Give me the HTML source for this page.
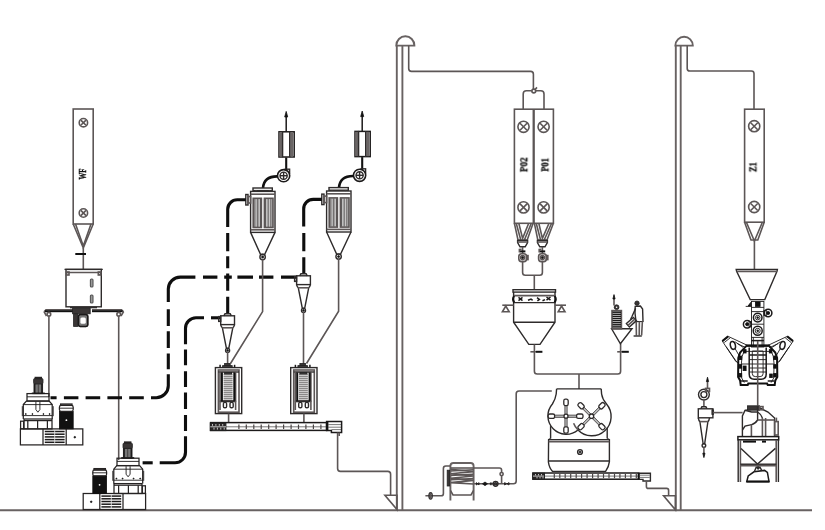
<!DOCTYPE html>
<html lang="en"><head><meta charset="utf-8"><title>Feed mill process flow diagram</title>
<style>
html,body{margin:0;padding:0;background:#fff}
svg{display:block}
.l{fill:none;stroke:#5c5656;stroke-width:1.6}
.m{fill:none;stroke:#2e2b2b;stroke-width:1.4}
.g{fill:none;stroke:#686262;stroke-width:1.9}
.wm{fill:#fff;stroke:#3d3939;stroke-width:1.1}
.k1{fill:none;stroke:#1c1a1a;stroke-width:0.9}
.k15{fill:none;stroke:#1c1a1a;stroke-width:1.5}
.k2{fill:none;stroke:#111;stroke-width:2}
.k25{fill:none;stroke:#111;stroke-width:2.6}
.wk{fill:#fff;stroke:#1c1a1a;stroke-width:1.6}
.hz{fill:#6a6565;stroke:none}
.arm{fill:#bbb;stroke:#3a3636;stroke-width:0.8}
.wm2{fill:#fff;stroke:#2e2b2b;stroke-width:1.3}
.tk{fill:none;stroke:#4a4545;stroke-width:1.2}
.mk{fill:none;stroke:#262323;stroke-width:1.25}
.k22{fill:none;stroke:#111;stroke-width:2.1}
.k3{fill:none;stroke:#0e0e0e;stroke-width:3.1}
.d{fill:none;stroke:#0c0c0c;stroke-width:3.3;stroke-dasharray:14.2 7.3}
.f{fill:#111;stroke:#111;stroke-width:0.8}
.f2{fill:#3a3636;stroke:#222;stroke-width:0.8}
.f4{fill:#777;stroke:#222;stroke-width:0.9}
.f3{fill:#2a2727;stroke:#222;stroke-width:1}
.w{fill:#fff;stroke:none}
.sl{fill:#999;stroke:#555;stroke-width:1.1}
.w1{fill:none;stroke:#eee;stroke-width:0.8}
.hs{fill:none;stroke:#474343;stroke-width:0.85}
.hs2{fill:none;stroke:#555;stroke-width:0.8}
.hs3{fill:none;stroke:#3a3636;stroke-width:0.85}
.t{font-family:"Liberation Serif",serif;font-weight:bold;fill:#111;stroke:#111;stroke-width:0.35}
</style></head>
<body>
<svg width="825" height="530" viewBox="0 0 825 530" role="img" aria-label="Process flow diagram">
<rect x="0" y="0" width="825" height="530" fill="#fff"/>
<line class="g" x1="0.0" y1="510.2" x2="397.0" y2="510.2"/>
<line class="g" x1="397.0" y1="510.2" x2="812.0" y2="510.2"/>
<line class="g" x1="396.8" y1="45.4" x2="396.8" y2="510.2"/>
<line class="g" x1="402.4" y1="45.4" x2="402.4" y2="510.2"/>
<path class="g" d="M396.3,45.6 A9.05,9.3 0 0 1 414.4,45.6 Z" />
<line class="g" x1="675.8" y1="45.4" x2="675.8" y2="510.2"/>
<line class="g" x1="680.7" y1="45.4" x2="680.7" y2="510.2"/>
<path class="g" d="M675.4,45.6 A8.7,8.8 0 0 1 692.8,45.6 Z" />
<rect class="l" x="73.2" y="109.0" width="20.0" height="115.0" />
<path class="l" d="M73.2,224 L83.3,248 L93.2,224" />
<path class="l" d="M75.5,224 L83.3,246 L91,224" />
<circle class="l" cx="83.4" cy="122.7" r="4.2"/>
<line class="l" x1="80.8" y1="120.1" x2="86.0" y2="125.3"/>
<line class="l" x1="80.8" y1="125.3" x2="86.0" y2="120.1"/>
<circle class="l" cx="83.4" cy="213.0" r="4.2"/>
<line class="l" x1="80.8" y1="210.4" x2="86.0" y2="215.6"/>
<line class="l" x1="80.8" y1="215.6" x2="86.0" y2="210.4"/>
<text class="t" style="will-change:opacity" transform="translate(86.0,174.0) rotate(-90)" font-size="10.5" text-anchor="middle" textLength="11" lengthAdjust="spacingAndGlyphs">WF</text>
<line class="l" x1="83.3" y1="248.0" x2="83.3" y2="269.2"/>
<line class="k2" x1="75.3" y1="254.0" x2="86.0" y2="254.0"/>
<rect class="m" x="66.0" y="269.4" width="35.3" height="37.4" />
<line class="m" x1="64.5" y1="269.4" x2="102.8" y2="269.4"/>
<line class="l" x1="66.0" y1="272.5" x2="101.3" y2="272.5"/>
<rect class="sl" x="90.4" y="279.0" width="2.6" height="8.0" rx="1"/>
<rect class="sl" x="90.4" y="295.0" width="2.6" height="8.0" rx="1"/>
<rect class="l" x="66.5" y="272.0" width="2.5" height="3.0" />
<rect class="l" x="98.3" y="272.0" width="2.5" height="3.0" />
<path class="l" d="M44,311.8 L46,309.8 L73,309.8 M92,309.8 L121.5,309.8 L123.6,311.8" />
<line class="k2" x1="45.0" y1="311.2" x2="73.4" y2="311.2"/>
<line class="k2" x1="92.0" y1="311.2" x2="122.5" y2="311.2"/>
<circle class="l" cx="48.9" cy="314.2" r="1.8"/>
<circle class="l" cx="118.7" cy="314.2" r="1.8"/>
<line class="l" x1="44.0" y1="311.6" x2="46.5" y2="316.0"/>
<line class="l" x1="123.6" y1="311.6" x2="121.0" y2="316.0"/>
<rect class="f2" x="72.6" y="308.4" width="17.6" height="5.4" />
<rect class="f2" x="73.6" y="313.8" width="4.0" height="12.6" />
<rect class="f4" x="78.4" y="314.6" width="9.4" height="12.0" rx="2"/>
<rect class="w" x="80.4" y="317.4" width="5.4" height="6.4" rx="1.5"/>
<rect class="k15" x="78.4" y="314.6" width="9.4" height="12.0" rx="2"/>
<line class="m" x1="70.0" y1="307.6" x2="97.0" y2="307.6"/>
<line class="l" x1="48.9" y1="316.0" x2="48.9" y2="397.0"/>
<line class="l" x1="118.7" y1="316.0" x2="118.7" y2="460.0"/>
<g transform="translate(20.4,445.2) scale(1,1)">
<rect class="mk" x="0.0" y="-16.3" width="62.4" height="16.0" />
<line class="mk" x1="22.6" y1="-16.3" x2="22.6" y2="-0.3"/>
<line class="mk" x1="45.8" y1="-16.3" x2="45.8" y2="-0.3"/>
<line class="k15" x1="24.4" y1="-13.7" x2="44.2" y2="-13.7"/>
<line class="k15" x1="24.4" y1="-11.0" x2="44.2" y2="-11.0"/>
<line class="k15" x1="24.4" y1="-8.3" x2="44.2" y2="-8.3"/>
<line class="k15" x1="24.4" y1="-5.6" x2="44.2" y2="-5.6"/>
<line class="k15" x1="24.4" y1="-2.9" x2="44.2" y2="-2.9"/>
<line class="w1" x1="34.3" y1="-15.0" x2="34.3" y2="-1.5"/>
<circle class="f" cx="54.4" cy="-8.0" r="0.8"/>
<rect class="mk" x="3.6" y="-26.2" width="28.0" height="9.9" />
<line class="mk" x1="7.4" y1="-24.6" x2="7.4" y2="-16.3"/>
<line class="mk" x1="17.2" y1="-24.6" x2="17.2" y2="-16.3"/>
<line class="mk" x1="27.0" y1="-24.6" x2="27.0" y2="-16.3"/>
<line class="mk" x1="3.6" y1="-24.6" x2="31.6" y2="-24.6"/>
<rect class="mk" x="0.2" y="-24.0" width="3.0" height="7.6" />
<path class="mk" d="M2.9,-26.2 L2.9,-40.6 L6,-44.2 L28.8,-44.2 L31.8,-40.6 L31.8,-26.2" />
<line class="k1" x1="3.0" y1="-40.6" x2="31.8" y2="-40.6"/>
<path class="k1" d="M15.5,-43.6 L15.5,-35.6 L17.5,-33 L19.5,-35.6 L19.5,-43.6" />
<line class="k1" x1="2.9" y1="-29.6" x2="31.8" y2="-29.6"/>
<circle class="f" cx="5.4" cy="-31.2" r="0.5"/>
<circle class="f" cx="12.0" cy="-31.2" r="0.5"/>
<circle class="f" cx="23.0" cy="-31.2" r="0.5"/>
<circle class="f" cx="29.2" cy="-31.2" r="0.5"/>
<line class="k1" x1="1.9" y1="-39.0" x2="1.9" y2="-29.0"/>
<line class="k1" x1="32.8" y1="-39.0" x2="32.8" y2="-29.0"/>
<rect class="mk" x="6.6" y="-51.6" width="22.0" height="7.4" />
<line class="k1" x1="6.6" y1="-48.4" x2="28.6" y2="-48.4"/>
<rect class="f4" x="13.6" y="-61.4" width="8.6" height="9.8" />
<rect class="f2" x="13.2" y="-66.6" width="9.4" height="5.2" rx="1"/>
<rect class="mk" x="14.8" y="-67.8" width="6.2" height="1.2" />
<line class="k15" x1="14.3" y1="-61.4" x2="14.3" y2="-51.6"/>
<line class="k15" x1="21.5" y1="-61.4" x2="21.5" y2="-51.6"/>
<line class="hs3" x1="17.9" y1="-61.0" x2="17.9" y2="-52.0"/>
<line class="k15" x1="11.4" y1="-51.9" x2="24.4" y2="-51.9"/>
<rect class="f" x="39.0" y="-33.8" width="13.8" height="17.5" />
<rect class="mk" x="39.0" y="-39.8" width="13.8" height="6.0" rx="1.8"/>
<rect class="mk" x="40.2" y="-41.2" width="11.4" height="1.4" />
<line class="k1" x1="39.0" y1="-37.0" x2="52.8" y2="-37.0"/>
<circle class="w" cx="46.0" cy="-25.0" r="0.9"/>
</g>
<g transform="translate(145.6,509.8) scale(-1,1)">
<rect class="mk" x="0.0" y="-16.3" width="62.4" height="16.0" />
<line class="mk" x1="22.6" y1="-16.3" x2="22.6" y2="-0.3"/>
<line class="mk" x1="45.8" y1="-16.3" x2="45.8" y2="-0.3"/>
<line class="k15" x1="24.4" y1="-13.7" x2="44.2" y2="-13.7"/>
<line class="k15" x1="24.4" y1="-11.0" x2="44.2" y2="-11.0"/>
<line class="k15" x1="24.4" y1="-8.3" x2="44.2" y2="-8.3"/>
<line class="k15" x1="24.4" y1="-5.6" x2="44.2" y2="-5.6"/>
<line class="k15" x1="24.4" y1="-2.9" x2="44.2" y2="-2.9"/>
<line class="w1" x1="34.3" y1="-15.0" x2="34.3" y2="-1.5"/>
<circle class="f" cx="54.4" cy="-8.0" r="0.8"/>
<rect class="mk" x="3.6" y="-26.2" width="28.0" height="9.9" />
<line class="mk" x1="7.4" y1="-24.6" x2="7.4" y2="-16.3"/>
<line class="mk" x1="17.2" y1="-24.6" x2="17.2" y2="-16.3"/>
<line class="mk" x1="27.0" y1="-24.6" x2="27.0" y2="-16.3"/>
<line class="mk" x1="3.6" y1="-24.6" x2="31.6" y2="-24.6"/>
<rect class="mk" x="0.2" y="-24.0" width="3.0" height="7.6" />
<path class="mk" d="M2.9,-26.2 L2.9,-40.6 L6,-44.2 L28.8,-44.2 L31.8,-40.6 L31.8,-26.2" />
<line class="k1" x1="3.0" y1="-40.6" x2="31.8" y2="-40.6"/>
<path class="k1" d="M15.5,-43.6 L15.5,-35.6 L17.5,-33 L19.5,-35.6 L19.5,-43.6" />
<line class="k1" x1="2.9" y1="-29.6" x2="31.8" y2="-29.6"/>
<circle class="f" cx="5.4" cy="-31.2" r="0.5"/>
<circle class="f" cx="12.0" cy="-31.2" r="0.5"/>
<circle class="f" cx="23.0" cy="-31.2" r="0.5"/>
<circle class="f" cx="29.2" cy="-31.2" r="0.5"/>
<line class="k1" x1="1.9" y1="-39.0" x2="1.9" y2="-29.0"/>
<line class="k1" x1="32.8" y1="-39.0" x2="32.8" y2="-29.0"/>
<rect class="mk" x="6.6" y="-51.6" width="22.0" height="7.4" />
<line class="k1" x1="6.6" y1="-48.4" x2="28.6" y2="-48.4"/>
<rect class="f4" x="13.6" y="-61.4" width="8.6" height="9.8" />
<rect class="f2" x="13.2" y="-66.6" width="9.4" height="5.2" rx="1"/>
<rect class="mk" x="14.8" y="-67.8" width="6.2" height="1.2" />
<line class="k15" x1="14.3" y1="-61.4" x2="14.3" y2="-51.6"/>
<line class="k15" x1="21.5" y1="-61.4" x2="21.5" y2="-51.6"/>
<line class="hs3" x1="17.9" y1="-61.0" x2="17.9" y2="-52.0"/>
<line class="k15" x1="11.4" y1="-51.9" x2="24.4" y2="-51.9"/>
<rect class="f" x="39.0" y="-33.8" width="13.8" height="17.5" />
<rect class="mk" x="39.0" y="-39.8" width="13.8" height="6.0" rx="1.8"/>
<rect class="mk" x="40.2" y="-41.2" width="11.4" height="1.4" />
<line class="k1" x1="39.0" y1="-37.0" x2="52.8" y2="-37.0"/>
<circle class="w" cx="46.0" cy="-25.0" r="0.9"/>
</g>
<path class="k3" d="M50.5,397.7 L56.6,397.7 M63.9,397.7 L78.4,397.7 M85.6,397.7 L100.2,397.7 M107.4,397.7 L122.0,397.7 M129.2,397.7 L143.8,397.7" />
<path class="k3" d="M151,397.7 L156.3,397.7 A12,12 0 0 0 168.3,385.7 L168.3,374.2" />
<path class="k3" d="M168.3,369.3 L168.3,353.4 M168.3,348.0 L168.3,331.3 M168.3,325.9 L168.3,309.2" />
<path class="k3" d="M168.3,301.9 L168.3,289.1 A12,12 0 0 1 180.3,277.1 L195.4,277.1" />
<path class="k3" d="M203.0,277.1 L217.4,277.1 M224.2,277.1 L231.8,277.1 M237.4,277.1 L253.0,277.1 M259.0,277.1 L273.4,277.1 M281.0,277.1 L296.6,277.1" />
<path class="k3" d="M142.6,462.8 L152.7,462.8" />
<path class="k3" d="M159.7,462.8 L175,462.8 A10.5,10.5 0 0 0 185.5,452.3 L185.5,436.3" />
<path class="k3" d="M185.5,431.0 L185.5,415.0 M185.5,409.0 L185.5,392.5 M185.5,387.0 L185.5,371.3 M185.5,365.3 L185.5,349.6" />
<path class="k3" d="M185.5,344.2 L185.5,328.3 A10.5,10.5 0 0 1 196,317.8 L204,317.8" />
<path class="k3" d="M211.0,317.8 L221.0,317.8" />
<g transform="translate(0,0)">
<line class="k15" x1="286.2" y1="115.0" x2="286.2" y2="131.4"/>
<path class="f" d="M286.2,111.4 L284.7,117 L287.7,117 Z" />
<rect class="k15" x="279.0" y="131.8" width="15.2" height="25.2" />
<rect class="hz" x="279.2" y="132.2" width="3.0" height="24.4" />
<rect class="hz" x="290.2" y="132.2" width="3.0" height="24.4" />
<line class="m" x1="282.6" y1="131.3" x2="282.6" y2="157.3"/>
<line class="m" x1="289.7" y1="131.3" x2="289.7" y2="157.3"/>
<line class="k22" x1="286.2" y1="157.5" x2="286.2" y2="170.5"/>
<rect class="m" x="285.0" y="169.2" width="4.6" height="4.0" />
<circle class="wk" cx="283.6" cy="175.7" r="6.1"/>
<circle class="m" cx="283.6" cy="175.7" r="3.6"/>
<line class="m" x1="280.0" y1="175.7" x2="287.2" y2="175.7"/>
<line class="m" x1="283.6" y1="172.1" x2="283.6" y2="179.3"/>
<path class="k25" d="M277.5,176.4 Q264,176.2 263,188" />
<rect class="m" x="253.0" y="188.0" width="19.3" height="2.6" />
<line class="l" x1="256.0" y1="190.6" x2="256.0" y2="191.5"/>
<line class="l" x1="269.5" y1="190.6" x2="269.5" y2="191.5"/>
<rect class="m" x="250.6" y="191.4" width="24.4" height="41.0" />
<line class="l" x1="250.6" y1="194.2" x2="275.0" y2="194.2"/>
<rect class="l" x="253.2" y="198.3" width="8.2" height="29.2" />
<rect class="l" x="264.4" y="198.3" width="8.6" height="29.2" />
<line class="hs" x1="254.3" y1="198.8" x2="254.3" y2="227.0"/>
<line class="hs" x1="265.5" y1="198.8" x2="265.5" y2="227.0"/>
<line class="hs" x1="255.9" y1="198.8" x2="255.9" y2="227.0"/>
<line class="hs" x1="267.1" y1="198.8" x2="267.1" y2="227.0"/>
<line class="hs" x1="257.4" y1="198.8" x2="257.4" y2="227.0"/>
<line class="hs" x1="268.7" y1="198.8" x2="268.7" y2="227.0"/>
<line class="hs" x1="258.9" y1="198.8" x2="258.9" y2="227.0"/>
<line class="hs" x1="270.3" y1="198.8" x2="270.3" y2="227.0"/>
<line class="hs" x1="260.5" y1="198.8" x2="260.5" y2="227.0"/>
<line class="hs" x1="271.9" y1="198.8" x2="271.9" y2="227.0"/>
<line class="l" x1="250.6" y1="229.8" x2="275.0" y2="229.8"/>
<path class="m" d="M250.6,232.4 L260.6,254.5 L264.6,254.5 L275,232.4" />
<circle class="m" cx="262.6" cy="257.0" r="2.7"/>
<circle class="f" cx="262.6" cy="257.0" r="1.0"/>
<rect class="m" x="245.8" y="194.5" width="2.2" height="10.5" />
<rect class="l" x="248.0" y="196.5" width="2.6" height="6.5" />
<path class="k3" d="M245.8,199.8 L237.2,199.8 A9.5,9.5 0 0 0 227.7,209.3 L227.7,227" />
</g>
<g transform="translate(76,-0.4)">
<line class="k15" x1="286.2" y1="115.0" x2="286.2" y2="131.4"/>
<path class="f" d="M286.2,111.4 L284.7,117 L287.7,117 Z" />
<rect class="k15" x="279.0" y="131.8" width="15.2" height="25.2" />
<rect class="hz" x="279.2" y="132.2" width="3.0" height="24.4" />
<rect class="hz" x="290.2" y="132.2" width="3.0" height="24.4" />
<line class="m" x1="282.6" y1="131.3" x2="282.6" y2="157.3"/>
<line class="m" x1="289.7" y1="131.3" x2="289.7" y2="157.3"/>
<line class="k22" x1="286.2" y1="157.5" x2="286.2" y2="170.5"/>
<rect class="m" x="285.0" y="169.2" width="4.6" height="4.0" />
<circle class="wk" cx="283.6" cy="175.7" r="6.1"/>
<circle class="m" cx="283.6" cy="175.7" r="3.6"/>
<line class="m" x1="280.0" y1="175.7" x2="287.2" y2="175.7"/>
<line class="m" x1="283.6" y1="172.1" x2="283.6" y2="179.3"/>
<path class="k25" d="M277.5,176.4 Q264,176.2 263,188" />
<rect class="m" x="253.0" y="188.0" width="19.3" height="2.6" />
<line class="l" x1="256.0" y1="190.6" x2="256.0" y2="191.5"/>
<line class="l" x1="269.5" y1="190.6" x2="269.5" y2="191.5"/>
<rect class="m" x="250.6" y="191.4" width="24.4" height="41.0" />
<line class="l" x1="250.6" y1="194.2" x2="275.0" y2="194.2"/>
<rect class="l" x="253.2" y="198.3" width="8.2" height="29.2" />
<rect class="l" x="264.4" y="198.3" width="8.6" height="29.2" />
<line class="hs" x1="254.3" y1="198.8" x2="254.3" y2="227.0"/>
<line class="hs" x1="265.5" y1="198.8" x2="265.5" y2="227.0"/>
<line class="hs" x1="255.9" y1="198.8" x2="255.9" y2="227.0"/>
<line class="hs" x1="267.1" y1="198.8" x2="267.1" y2="227.0"/>
<line class="hs" x1="257.4" y1="198.8" x2="257.4" y2="227.0"/>
<line class="hs" x1="268.7" y1="198.8" x2="268.7" y2="227.0"/>
<line class="hs" x1="258.9" y1="198.8" x2="258.9" y2="227.0"/>
<line class="hs" x1="270.3" y1="198.8" x2="270.3" y2="227.0"/>
<line class="hs" x1="260.5" y1="198.8" x2="260.5" y2="227.0"/>
<line class="hs" x1="271.9" y1="198.8" x2="271.9" y2="227.0"/>
<line class="l" x1="250.6" y1="229.8" x2="275.0" y2="229.8"/>
<path class="m" d="M250.6,232.4 L260.6,254.5 L264.6,254.5 L275,232.4" />
<circle class="m" cx="262.6" cy="257.0" r="2.7"/>
<circle class="f" cx="262.6" cy="257.0" r="1.0"/>
<rect class="m" x="245.8" y="194.5" width="2.2" height="10.5" />
<rect class="l" x="248.0" y="196.5" width="2.6" height="6.5" />
<path class="k3" d="M245.8,199.8 L237.2,199.8 A9.5,9.5 0 0 0 227.7,209.3 L227.7,227" />
</g>
<path class="k3" d="M227.7,232.9 L227.7,251.3 M227.7,256.2 L227.7,268.2 M227.7,273.5 L227.7,290.8 M227.7,296.8 L227.7,313.6" />
<path class="k3" d="M303.8,232.9 L303.8,251.3 M303.8,257.2 L303.8,273.6" />
<path class="m" d="M223.8,315.8 L225.0,313.8 L230.2,313.8 L231.4,315.8" />
<rect class="m" x="220.7" y="315.8" width="13.8" height="8.8" />
<rect class="m" x="218.7" y="316.6" width="2.0" height="4.8" />
<path class="m" d="M220.7,324.6 Q221.2,326.8 222.4,327.8 L226.4,348.2 L228.8,348.2 L232.8,327.8 Q234.0,326.8 234.5,324.6" />
<line class="l" x1="222.4" y1="327.8" x2="232.8" y2="327.8"/>
<circle class="m" cx="227.6" cy="350.4" r="2.0"/>
<circle class="f" cx="227.6" cy="350.4" r="0.8"/>
<path class="m" d="M299.7,275.8 L300.9,273.8 L306.1,273.8 L307.3,275.8" />
<rect class="m" x="296.6" y="275.8" width="13.8" height="8.8" />
<rect class="m" x="294.6" y="276.6" width="2.0" height="4.8" />
<path class="m" d="M296.6,284.6 Q297.1,286.8 298.3,287.8 L302.3,308.2 L304.7,308.2 L308.7,287.8 Q309.9,286.8 310.4,284.6" />
<line class="l" x1="298.3" y1="287.8" x2="308.7" y2="287.8"/>
<circle class="m" cx="303.5" cy="310.4" r="2.0"/>
<circle class="f" cx="303.5" cy="310.4" r="0.8"/>
<line class="l" x1="227.6" y1="352.0" x2="227.6" y2="364.0"/>
<line class="l" x1="303.5" y1="312.0" x2="303.5" y2="364.0"/>
<path class="l" d="M262.6,259.2 L262.6,311.6 L230.5,363.5" />
<path class="l" d="M338.6,258.8 L338.6,311.2 L306.5,363.5" />
<g transform="translate(0,0)">
<rect class="m" x="215.4" y="367.6" width="26.3" height="46.0" />
<rect class="l" x="218.4" y="370.0" width="20.6" height="42.2" />
<rect class="f2" x="224.6" y="363.4" width="5.6" height="2.2" />
<rect class="f2" x="222.6" y="365.6" width="9.6" height="2.0" />
<line class="k15" x1="220.1" y1="364.8" x2="220.1" y2="367.6"/>
<line class="k15" x1="234.6" y1="364.8" x2="234.6" y2="367.6"/>
<line class="m" x1="218.4" y1="372.0" x2="239.0" y2="372.0"/>
<rect class="l" x="220.0" y="372.2" width="15.6" height="28.6" />
<line class="k2" x1="221.9" y1="372.4" x2="221.9" y2="402.0"/>
<line class="k2" x1="234.3" y1="372.4" x2="234.3" y2="402.0"/>
<line class="hs3" x1="223.6" y1="374.2" x2="232.6" y2="374.2"/>
<line class="hs3" x1="223.6" y1="376.2" x2="232.6" y2="376.2"/>
<line class="hs3" x1="223.6" y1="378.2" x2="232.6" y2="378.2"/>
<line class="hs3" x1="223.6" y1="380.2" x2="232.6" y2="380.2"/>
<line class="hs3" x1="223.6" y1="382.2" x2="232.6" y2="382.2"/>
<line class="hs3" x1="223.6" y1="384.2" x2="232.6" y2="384.2"/>
<line class="hs3" x1="223.6" y1="386.2" x2="232.6" y2="386.2"/>
<line class="hs3" x1="223.6" y1="388.2" x2="232.6" y2="388.2"/>
<line class="hs3" x1="223.6" y1="390.2" x2="232.6" y2="390.2"/>
<line class="hs3" x1="223.6" y1="392.2" x2="232.6" y2="392.2"/>
<line class="hs3" x1="223.6" y1="394.2" x2="232.6" y2="394.2"/>
<line class="hs3" x1="223.6" y1="396.2" x2="232.6" y2="396.2"/>
<line class="hs3" x1="223.6" y1="398.2" x2="232.6" y2="398.2"/>
<line class="hs3" x1="223.6" y1="400.2" x2="232.6" y2="400.2"/>
<rect class="f2" x="224.6" y="372.4" width="7.0" height="1.5" />
<rect class="m" x="223.4" y="402.4" width="3.2" height="5.4" rx="1.4"/>
<rect class="m" x="230.0" y="402.4" width="3.2" height="5.4" rx="1.4"/>
<line class="m" x1="220.0" y1="401.6" x2="235.6" y2="401.6"/>
<line class="l" x1="220.0" y1="400.8" x2="220.0" y2="410.0"/>
<line class="l" x1="235.6" y1="400.8" x2="235.6" y2="410.0"/>
<line class="l" x1="228.6" y1="413.6" x2="228.6" y2="422.6"/>
</g>
<g transform="translate(75.3,0)">
<rect class="m" x="215.4" y="367.6" width="26.3" height="46.0" />
<rect class="l" x="218.4" y="370.0" width="20.6" height="42.2" />
<rect class="f2" x="224.6" y="363.4" width="5.6" height="2.2" />
<rect class="f2" x="222.6" y="365.6" width="9.6" height="2.0" />
<line class="k15" x1="220.1" y1="364.8" x2="220.1" y2="367.6"/>
<line class="k15" x1="234.6" y1="364.8" x2="234.6" y2="367.6"/>
<line class="m" x1="218.4" y1="372.0" x2="239.0" y2="372.0"/>
<rect class="l" x="220.0" y="372.2" width="15.6" height="28.6" />
<line class="k2" x1="221.9" y1="372.4" x2="221.9" y2="402.0"/>
<line class="k2" x1="234.3" y1="372.4" x2="234.3" y2="402.0"/>
<line class="hs3" x1="223.6" y1="374.2" x2="232.6" y2="374.2"/>
<line class="hs3" x1="223.6" y1="376.2" x2="232.6" y2="376.2"/>
<line class="hs3" x1="223.6" y1="378.2" x2="232.6" y2="378.2"/>
<line class="hs3" x1="223.6" y1="380.2" x2="232.6" y2="380.2"/>
<line class="hs3" x1="223.6" y1="382.2" x2="232.6" y2="382.2"/>
<line class="hs3" x1="223.6" y1="384.2" x2="232.6" y2="384.2"/>
<line class="hs3" x1="223.6" y1="386.2" x2="232.6" y2="386.2"/>
<line class="hs3" x1="223.6" y1="388.2" x2="232.6" y2="388.2"/>
<line class="hs3" x1="223.6" y1="390.2" x2="232.6" y2="390.2"/>
<line class="hs3" x1="223.6" y1="392.2" x2="232.6" y2="392.2"/>
<line class="hs3" x1="223.6" y1="394.2" x2="232.6" y2="394.2"/>
<line class="hs3" x1="223.6" y1="396.2" x2="232.6" y2="396.2"/>
<line class="hs3" x1="223.6" y1="398.2" x2="232.6" y2="398.2"/>
<line class="hs3" x1="223.6" y1="400.2" x2="232.6" y2="400.2"/>
<rect class="f2" x="224.6" y="372.4" width="7.0" height="1.5" />
<rect class="m" x="223.4" y="402.4" width="3.2" height="5.4" rx="1.4"/>
<rect class="m" x="230.0" y="402.4" width="3.2" height="5.4" rx="1.4"/>
<line class="m" x1="220.0" y1="401.6" x2="235.6" y2="401.6"/>
<line class="l" x1="220.0" y1="400.8" x2="220.0" y2="410.0"/>
<line class="l" x1="235.6" y1="400.8" x2="235.6" y2="410.0"/>
<line class="l" x1="228.6" y1="413.6" x2="228.6" y2="422.6"/>
</g>
<rect class="k15" x="210.6" y="422.6" width="116.0" height="7.8" />
<line class="hs2" x1="226.0" y1="426.8" x2="326.4" y2="426.8"/>
<line class="tk" x1="238.9" y1="424.6" x2="238.9" y2="429.0"/>
<line class="tk" x1="246.3" y1="424.6" x2="246.3" y2="429.0"/>
<line class="tk" x1="253.8" y1="424.6" x2="253.8" y2="429.0"/>
<line class="tk" x1="261.2" y1="424.6" x2="261.2" y2="429.0"/>
<line class="tk" x1="268.7" y1="424.6" x2="268.7" y2="429.0"/>
<line class="tk" x1="276.1" y1="424.6" x2="276.1" y2="429.0"/>
<line class="tk" x1="283.6" y1="424.6" x2="283.6" y2="429.0"/>
<line class="tk" x1="291.1" y1="424.6" x2="291.1" y2="429.0"/>
<line class="tk" x1="298.5" y1="424.6" x2="298.5" y2="429.0"/>
<line class="tk" x1="305.9" y1="424.6" x2="305.9" y2="429.0"/>
<line class="tk" x1="313.4" y1="424.6" x2="313.4" y2="429.0"/>
<line class="tk" x1="320.9" y1="424.6" x2="320.9" y2="429.0"/>
<rect class="f3" x="210.3" y="423.0" width="15.6" height="7.6" />
<line class="w1" x1="212.5" y1="424.0" x2="212.5" y2="425.8"/>
<line class="w1" x1="214.0" y1="427.6" x2="214.0" y2="429.6"/>
<line class="w1" x1="215.9" y1="424.0" x2="215.9" y2="425.8"/>
<line class="w1" x1="217.4" y1="427.6" x2="217.4" y2="429.6"/>
<line class="w1" x1="219.3" y1="424.0" x2="219.3" y2="425.8"/>
<line class="w1" x1="220.8" y1="427.6" x2="220.8" y2="429.6"/>
<line class="w1" x1="222.7" y1="424.0" x2="222.7" y2="425.8"/>
<line class="w1" x1="224.2" y1="427.6" x2="224.2" y2="429.6"/>
<line class="w1" x1="210.3" y1="426.8" x2="226.0" y2="426.8"/>
<path class="k15" d="M326.6,421.4 L341.6,421.4 L341.6,432.4 L331.4,432.4 L331.4,430.6 L326.6,430.6 Z" />
<line class="k2" x1="327.4" y1="421.4" x2="327.4" y2="430.6"/>
<line class="hs2" x1="328.0" y1="424.6" x2="341.0" y2="424.6"/>
<line class="hs2" x1="328.0" y1="427.2" x2="341.0" y2="427.2"/>
<line class="hs2" x1="331.6" y1="429.6" x2="341.0" y2="429.6"/>
<path class="l" d="M337.6,432.4 L337.6,468.6 Q337.6,471.4 340.4,471.4 L387.8,471.4 Q390.6,471.4 390.6,474.2 L390.6,495.2" />
<line class="l" x1="339.2" y1="432.4" x2="339.2" y2="436.0"/>
<path class="l" d="M384.9,495.2 L397,495.2 L397,509.6 Z" />
<path class="l" d="M408.7,45.6 L408.7,68.6 Q408.7,71.4 411.5,71.4 L530.6,71.4 Q533.4,71.4 533.4,74.2 L533.4,89" />
<circle class="l" cx="533.8" cy="91.0" r="1.9"/>
<line class="l" x1="535.0" y1="89.6" x2="537.0" y2="87.4"/>
<path class="l" d="M523.2,109.2 L523.2,94 Q523.2,90.8 526.4,90.8 L531.8,90.8 M535.8,90.8 L540.8,90.8 Q544,90.8 544,94 L544,109.2" />
<rect class="l" x="514.4" y="109.2" width="39.0" height="114.1" />
<line x1="533.7" y1="109.2" x2="533.7" y2="223.3" stroke="#5c5656" stroke-width="2.3"/>
<circle class="l" cx="523.5" cy="126.8" r="5.6"/>
<line class="l" x1="520.0" y1="123.3" x2="527.0" y2="130.3"/>
<line class="l" x1="520.0" y1="130.3" x2="527.0" y2="123.3"/>
<circle class="l" cx="543.6" cy="126.8" r="5.6"/>
<line class="l" x1="540.1" y1="123.3" x2="547.1" y2="130.3"/>
<line class="l" x1="540.1" y1="130.3" x2="547.1" y2="123.3"/>
<circle class="l" cx="523.5" cy="207.4" r="5.6"/>
<line class="l" x1="520.0" y1="203.9" x2="527.0" y2="210.9"/>
<line class="l" x1="520.0" y1="210.9" x2="527.0" y2="203.9"/>
<circle class="l" cx="543.6" cy="207.4" r="5.6"/>
<line class="l" x1="540.1" y1="203.9" x2="547.1" y2="210.9"/>
<line class="l" x1="540.1" y1="210.9" x2="547.1" y2="203.9"/>
<text class="t" style="will-change:opacity" transform="translate(527.3,164.6) rotate(-90)" font-size="10" text-anchor="middle" textLength="14.3" lengthAdjust="spacingAndGlyphs">P02</text>
<text class="t" style="will-change:opacity" transform="translate(548.4,164.8) rotate(-90)" font-size="10" text-anchor="middle" textLength="13.6" lengthAdjust="spacingAndGlyphs">P01</text>
<path class="l" d="M514.4,223.3 L518.0,240 L527.2,240 L533.1,223.3" />
<path class="l" d="M516.2,223.3 L520.8,240 M531.3,223.3 L524.4,240" />
<path class="l" d="M518.8,223.3 L522.6,238.4 L528.7,223.3" />
<path class="m" d="M517.6,240.4 L527.6,240.4 L527.6,242.6 L525.2,246.8 L520.0,246.8 L517.6,242.6 Z" />
<line class="l" x1="517.6" y1="242.0" x2="527.6" y2="242.0"/>
<line class="l" x1="522.6" y1="246.8" x2="522.6" y2="253.6"/>
<line class="k2" x1="520.0" y1="251.4" x2="525.4" y2="251.4"/>
<path class="l" d="M519.4,252.4 L519.4,249.6 L521.6,249.4" />
<rect class="l" x="518.8" y="253.7" width="7.8" height="7.9" rx="2.8"/>
<circle class="l" cx="522.6" cy="257.6" r="2.0"/>
<circle class="f" cx="522.6" cy="257.6" r="0.9"/>
<rect class="l" x="526.6" y="255.6" width="1.4" height="4.0" />
<path class="l" d="M534.4,223.3 L537.8,240 L547.0,240 L553.4,223.3" />
<path class="l" d="M536.2,223.3 L540.6,240 M551.6,223.3 L544.2,240" />
<path class="l" d="M538.8,223.3 L542.4,238.4 L549.0,223.3" />
<path class="m" d="M537.4,240.4 L547.4,240.4 L547.4,242.6 L545.0,246.8 L539.8,246.8 L537.4,242.6 Z" />
<line class="l" x1="537.4" y1="242.0" x2="547.4" y2="242.0"/>
<line class="l" x1="542.4" y1="246.8" x2="542.4" y2="253.6"/>
<line class="k2" x1="539.8" y1="251.4" x2="545.2" y2="251.4"/>
<path class="l" d="M539.2,252.4 L539.2,249.6 L541.4,249.4" />
<rect class="l" x="538.6" y="253.7" width="7.8" height="7.9" rx="2.8"/>
<circle class="l" cx="542.4" cy="257.6" r="2.0"/>
<circle class="f" cx="542.4" cy="257.6" r="0.9"/>
<rect class="l" x="546.4" y="255.6" width="1.4" height="4.0" />
<path class="l" d="M522.6,261.6 L522.6,272.6 Q522.6,275.3 525.3,275.3 L539.7,275.3 Q542.4,275.3 542.4,272.6 L542.4,261.6" />
<line class="l" x1="534.3" y1="275.3" x2="534.3" y2="289.6"/>
<rect class="m" x="513.0" y="289.7" width="42.5" height="2.4" />
<path class="m" d="M513.6,292.1 L513.6,322.2 L528.8,344.4 L540,344.4 L555,322.2 L555,292.1" />
<line class="m" x1="513.6" y1="322.2" x2="555.0" y2="322.2"/>
<line class="l" x1="513.6" y1="295.6" x2="555.0" y2="295.6"/>
<line class="m" x1="513.6" y1="302.6" x2="555.0" y2="302.6"/>
<path class="k2" d="M514.2,296 Q511.8,299 514.2,302.4 M554.6,296 Q557,299 554.6,302.4" />
<line class="k15" x1="518.5" y1="297.4" x2="522.5" y2="300.6"/>
<line class="k15" x1="518.5" y1="300.6" x2="522.5" y2="297.4"/>
<line class="k15" x1="546.5" y1="297.0" x2="550.5" y2="300.2"/>
<line class="k15" x1="546.5" y1="300.2" x2="550.5" y2="297.0"/>
<path class="k15" d="M528,300.2 L531,299 L532.6,300.4 M537,297.6 L539.4,299.4 L537.4,300.8 M542.5,300.8 L545,299.6" />
<line class="l" x1="502.3" y1="305.2" x2="513.6" y2="305.2"/>
<path class="l" d="M505.8,306 L502.4,311.8 L509.2,311.8 Z" />
<line class="l" x1="555.0" y1="305.2" x2="566.0" y2="305.2"/>
<path class="l" d="M561.6,306 L558.2,311.8 L565,311.8 Z" />
<path class="l" d="M534.4,344.4 L534.4,371.2 Q534.4,374 537.2,374 L617.8,374 Q620.6,374 620.6,371.2 L620.6,343.6" />
<line class="l" x1="530.4" y1="351.8" x2="536.0" y2="351.8"/>
<line class="k2" x1="536.0" y1="351.8" x2="542.4" y2="351.8"/>
<line class="l" x1="579.0" y1="374.0" x2="579.0" y2="389.0"/>
<path class="m" d="M611.6,328.8 L632,328.8 L620.4,343.8 Z" />
<line class="l" x1="617.2" y1="351.8" x2="622.0" y2="351.8"/>
<line class="k2" x1="622.0" y1="351.8" x2="628.8" y2="351.8"/>
<rect class="l" x="612.0" y="310.6" width="9.4" height="18.2" />
<line class="k15" x1="612.4" y1="312.2" x2="621.0" y2="312.2"/>
<line class="k15" x1="612.4" y1="314.3" x2="621.0" y2="314.3"/>
<line class="k15" x1="612.4" y1="316.4" x2="621.0" y2="316.4"/>
<line class="k15" x1="612.4" y1="318.5" x2="621.0" y2="318.5"/>
<line class="k15" x1="612.4" y1="320.6" x2="621.0" y2="320.6"/>
<line class="k15" x1="612.4" y1="322.7" x2="621.0" y2="322.7"/>
<line class="k15" x1="612.4" y1="324.8" x2="621.0" y2="324.8"/>
<line class="k15" x1="612.4" y1="326.9" x2="621.0" y2="326.9"/>
<circle class="f2" cx="616.6" cy="307.2" r="2.4"/>
<circle class="w" cx="616.6" cy="307.2" r="0.8"/>
<line class="l" x1="614.0" y1="298.0" x2="614.0" y2="305.4"/>
<path class="f" d="M614,294.6 L612.9,299 L615.1,299 Z" />
<circle class="f2" cx="637.0" cy="303.2" r="2.2"/>
<path class="m" d="M635.2,306.4 L640.4,306 L642.6,309 L643,321.4 L636,321.6 L635,313 Z" />
<path class="l" d="M636.2,321.6 L636.4,335.4 M639.4,321.6 L639.2,335.4 M642.4,321.4 L641.6,335.4" />
<path class="m" d="M633.6,336 L641.8,336" />
<path class="m" d="M635.6,308.4 L632,316.5 L630.4,319.8" />
<path class="m" d="M626.4,323.6 L633.4,317.4 L636.4,320.6 L629.4,327 Z" />
<line class="l" x1="628.0" y1="325.4" x2="634.8" y2="319.2"/>
<path class="m" d="M556.6,388.9 L601.2,388.9" />
<path class="m" d="M556.6,388.9 L556.2,394 Q555.4,399.4 552.4,404.0 A18.3,18.3 0 0 0 578.0,430.0 A19.3,19.3 0 0 0 606.5,404.0 Q602.4,399.4 601.6,394 L601.2,388.9" />
<path class="l" d="M578.0,430.0 A19.3,19.3 0 0 1 573.6,423.3" />
<path class="l" d="M578.0,430.0 A18.3,18.3 0 0 0 582.6,423.9" />
<line class="m" x1="550.6" y1="426.1" x2="550.6" y2="438.6"/>
<line class="m" x1="607.2" y1="427.4" x2="607.2" y2="438.6"/>
<path class="m" d="M550.6,438.6 L548.6,439.6 L548.4,462 Q549.2,468 552.6,471.4 L605.6,471.4 Q608.8,467 609.4,461.6 L609.4,439.6 L607.2,438.6" />
<line class="m" x1="548.6" y1="439.6" x2="609.4" y2="439.6"/>
<line class="l" x1="548.5" y1="441.6" x2="609.4" y2="441.6"/>
<line class="m" x1="548.4" y1="461.0" x2="609.4" y2="461.0"/>
<circle class="m" cx="580.0" cy="452.0" r="2.4"/>
<circle class="f2" cx="580.0" cy="452.0" r="1.0"/>
<g transform="translate(566.0,416.2) rotate(0)">
<rect class="arm" x="1.6" y="-1.1" width="9.4" height="2.2" />
<rect class="wm2" x="10.6" y="-2.2" width="6.4" height="4.4" rx="1.6"/>
</g>
<g transform="translate(566.0,416.2) rotate(90)">
<rect class="arm" x="1.6" y="-1.1" width="9.4" height="2.2" />
<rect class="wm2" x="10.6" y="-2.2" width="6.4" height="4.4" rx="1.6"/>
</g>
<g transform="translate(566.0,416.2) rotate(180)">
<rect class="arm" x="1.6" y="-1.1" width="10.2" height="2.2" />
<rect class="wm2" x="11.4" y="-2.2" width="6.4" height="4.4" rx="1.6"/>
</g>
<g transform="translate(566.0,416.2) rotate(270)">
<rect class="arm" x="1.6" y="-1.1" width="9.4" height="2.2" />
<rect class="wm2" x="10.6" y="-2.2" width="6.4" height="4.4" rx="1.6"/>
</g>
<circle class="wm2" cx="566.0" cy="416.2" r="2.0"/>
<g transform="translate(591.5,416.2) rotate(45)">
<rect class="arm" x="1.6" y="-1.1" width="10.4" height="2.2" />
<rect class="wm2" x="11.6" y="-2.2" width="6.4" height="4.4" rx="1.6"/>
</g>
<g transform="translate(591.5,416.2) rotate(135)">
<rect class="arm" x="1.6" y="-1.1" width="10.4" height="2.2" />
<rect class="wm2" x="11.6" y="-2.2" width="6.4" height="4.4" rx="1.6"/>
</g>
<g transform="translate(591.5,416.2) rotate(225)">
<rect class="arm" x="1.6" y="-1.1" width="10.4" height="2.2" />
<rect class="wm2" x="11.6" y="-2.2" width="6.4" height="4.4" rx="1.6"/>
</g>
<g transform="translate(591.5,416.2) rotate(315)">
<rect class="arm" x="1.6" y="-1.1" width="10.4" height="2.2" />
<rect class="wm2" x="11.6" y="-2.2" width="6.4" height="4.4" rx="1.6"/>
</g>
<circle class="wm2" cx="591.5" cy="416.2" r="2.2"/>
<path class="l" d="M551.8,391 L519,391 Q516.2,391 516.2,393.8 L516.2,481 Q516.2,483.8 513.4,483.8 L473.6,483.8" />
<path class="g" d="M450.4,500.4 L450.4,466 Q450.4,463 453.4,463 L470.6,463 Q473.6,463 473.6,466 L473.6,500.4" />
<line class="l" x1="450.4" y1="468.0" x2="473.6" y2="468.0"/>
<path class="l" d="M450.6,469.4 L473.4,471.6 L450.6,473.8 L473.4,476 L450.6,478.2 L473.4,480.4 L450.6,482.6 L473.4,484" />
<path class="l" d="M450.6,471 L473.4,469.8 M450.6,475.4 L473.4,474.2 M450.6,479.8 L473.4,478.6" />
<rect class="f2" x="447.2" y="470.2" width="2.4" height="15.8" />
<path class="l" d="M450.4,490.4 L453,495 L471,495 L473.6,490.4" />
<path class="l" d="M425.4,495.8 L441,495.8 Q443.4,495.8 443.4,493.4 L443.4,468.4 Q443.4,466 445.8,466 L450.4,466" />
<ellipse class="m" cx="430.6" cy="495.8" rx="1.6" ry="3.2"/>
<line class="l" x1="430.6" y1="492.6" x2="430.6" y2="499.0"/>
<path class="l" d="M473.6,468 L499.4,468 Q501.6,468 501.6,470.2 L501.6,472.4 M501.6,475.8 L501.6,483.8" />
<circle class="l" cx="501.6" cy="474.1" r="1.6"/>
<path class="k1" d="M476.4,482.6 L476.4,485 L479,482.6 L479,485 Z" />
<circle class="f" cx="485.0" cy="483.8" r="1.6"/>
<line class="k1" x1="482.0" y1="483.8" x2="488.0" y2="483.8"/>
<path class="k1" d="M490.4,482.4 L490.4,485.2 M491.8,482.4 L491.8,485.2" />
<circle class="m" cx="495.6" cy="483.8" r="2.4"/>
<circle class="m" cx="495.6" cy="483.8" r="1.1"/>
<path class="k1" d="M504.6,482.6 L504.6,485 L506.6,483.8 Z M509,482.6 L509,485 L507,483.8 Z" />
<rect class="k15" x="532.9" y="473.0" width="105.8" height="6.2" />
<line class="hs2" x1="544.5" y1="476.1" x2="638.6" y2="476.1"/>
<line class="tk" x1="554.3" y1="474.0" x2="554.3" y2="478.2"/>
<line class="tk" x1="559.8" y1="474.0" x2="559.8" y2="478.2"/>
<line class="tk" x1="565.2" y1="474.0" x2="565.2" y2="478.2"/>
<line class="tk" x1="570.7" y1="474.0" x2="570.7" y2="478.2"/>
<line class="tk" x1="576.2" y1="474.0" x2="576.2" y2="478.2"/>
<line class="tk" x1="581.6" y1="474.0" x2="581.6" y2="478.2"/>
<line class="tk" x1="587.1" y1="474.0" x2="587.1" y2="478.2"/>
<line class="tk" x1="592.6" y1="474.0" x2="592.6" y2="478.2"/>
<line class="tk" x1="598.1" y1="474.0" x2="598.1" y2="478.2"/>
<line class="tk" x1="603.5" y1="474.0" x2="603.5" y2="478.2"/>
<line class="tk" x1="609.0" y1="474.0" x2="609.0" y2="478.2"/>
<line class="tk" x1="614.5" y1="474.0" x2="614.5" y2="478.2"/>
<line class="tk" x1="619.9" y1="474.0" x2="619.9" y2="478.2"/>
<line class="tk" x1="625.4" y1="474.0" x2="625.4" y2="478.2"/>
<line class="tk" x1="630.9" y1="474.0" x2="630.9" y2="478.2"/>
<line class="tk" x1="636.3" y1="474.0" x2="636.3" y2="478.2"/>
<rect class="f3" x="532.9" y="473.2" width="11.6" height="5.8" />
<line class="w1" x1="533.0" y1="476.1" x2="544.0" y2="476.1"/>
<line class="w1" x1="535.5" y1="474.0" x2="535.5" y2="475.4"/>
<line class="w1" x1="537.0" y1="476.9" x2="537.0" y2="478.4"/>
<line class="w1" x1="538.5" y1="474.0" x2="538.5" y2="475.4"/>
<line class="w1" x1="540.0" y1="476.9" x2="540.0" y2="478.4"/>
<line class="w1" x1="541.5" y1="474.0" x2="541.5" y2="475.4"/>
<line class="w1" x1="543.0" y1="476.9" x2="543.0" y2="478.4"/>
<path class="m" d="M638.6,473.2 L650.4,473.2 L650.4,481 L643,481 L643,479.4 L638.6,479.4" />
<line class="k2" x1="638.7" y1="473.2" x2="638.7" y2="479.4"/>
<line class="hs2" x1="639.6" y1="475.2" x2="649.8" y2="475.2"/>
<line class="hs2" x1="639.6" y1="477.4" x2="649.8" y2="477.4"/>
<path class="l" d="M646.4,481.2 L646.4,486.4 Q646.4,488.4 648.4,488.4 L666.6,488.4 Q668.6,488.4 668.6,490.4 L668.6,495.7" />
<path class="l" d="M663.6,495.8 L675.4,495.8 L675.4,509.8 Z" />
<path class="l" d="M687.2,45.6 L687.2,68.4 Q687.2,71 689.8,71 L751.4,71 Q754,71 754,73.6 L754,109.2" />
<rect class="l" x="744.6" y="109.2" width="19.6" height="113.0" />
<circle class="l" cx="754.2" cy="126.2" r="5.6"/>
<line class="l" x1="750.7" y1="122.7" x2="757.7" y2="129.7"/>
<line class="l" x1="750.7" y1="129.7" x2="757.7" y2="122.7"/>
<circle class="l" cx="754.2" cy="207.0" r="5.6"/>
<line class="l" x1="750.7" y1="203.5" x2="757.7" y2="210.5"/>
<line class="l" x1="750.7" y1="210.5" x2="757.7" y2="203.5"/>
<text class="t" style="will-change:opacity" transform="translate(756.4,167.2) rotate(-90)" font-size="10.5" text-anchor="middle" textLength="9.6" lengthAdjust="spacingAndGlyphs">Z1</text>
<path class="l" d="M744.6,222.2 L751,240 L757.8,240 L764.2,222.2" />
<path class="l" d="M746.4,222.2 L754.4,241 L762.4,222.2" />
<line class="l" x1="754.4" y1="241.0" x2="754.4" y2="269.0"/>
<path class="m" d="M736.2,269.4 L777.4,269.4 L777,271.4 L764.8,299.6 L750.2,299.6 L736.6,271.4 Z" />
<line class="l" x1="736.6" y1="271.4" x2="777.0" y2="271.4"/>
<g transform="translate(757.7,0)">
<rect class="k1" x="-6.2" y="301.4" width="12.4" height="45.6" />
<rect class="f" x="-2.2" y="302.0" width="4.6" height="4.4" />
<path class="f" d="M-9.6,306 L-7,302.4 L-7,306 Z" />
<line class="k1" x1="-6.2" y1="307.4" x2="6.2" y2="307.4"/>
<line class="k1" x1="-12.0" y1="306.4" x2="-6.2" y2="306.4"/>
<circle class="k15" cx="0.0" cy="317.6" r="4.3"/>
<circle class="k1" cx="0.0" cy="317.6" r="2.3"/>
<circle class="f" cx="0.0" cy="317.6" r="0.9"/>
<circle class="k15" cx="0.0" cy="330.8" r="4.5"/>
<circle class="k1" cx="0.0" cy="330.8" r="2.5"/>
<circle class="f" cx="0.0" cy="330.8" r="0.9"/>
<circle class="k15" cx="10.4" cy="313.0" r="3.8"/>
<circle class="f" cx="10.4" cy="313.0" r="1.6"/>
<circle class="k15" cx="-10.5" cy="324.2" r="3.8"/>
<circle class="f" cx="-10.5" cy="324.2" r="1.6"/>
<rect class="k1" x="6.2" y="310.4" width="2.4" height="5.2" />
<rect class="k1" x="-8.6" y="321.6" width="2.4" height="5.2" />
<line class="k1" x1="-6.2" y1="311.6" x2="6.2" y2="311.6"/>
<line class="k1" x1="-6.2" y1="324.2" x2="6.2" y2="324.2"/>
<line class="k1" x1="-6.2" y1="337.4" x2="6.2" y2="337.4"/>
<line class="k15" x1="-6.2" y1="340.6" x2="6.2" y2="340.6"/>
<line class="k1" x1="-4.4" y1="337.4" x2="-4.4" y2="347.0"/>
<line class="k1" x1="4.4" y1="337.4" x2="4.4" y2="347.0"/>
<g transform="scale(1,1)">
<path class="k1" d="M-10.2,345.4 L-29.5,336.4 L-35.4,341.1 L-21.9,361.4 L-18.6,363.4" />
<path class="k2" d="M-29.5,336.4 L-35.4,341.1" />
<path class="k1" d="M-27.6,337.9 L-33.4,342.5 M-12,347.6 L-20.4,343.6 M-31.6,346.6 L-21,362" />
<ellipse class="k15" cx="-24.8" cy="345.4" rx="2.5" ry="4" transform="rotate(-12 -24.8 345.4)"/>
<path class="k1" d="M-22.4,349 L-17.4,357.6 M-22.6,341.8 L-14.6,347.4" />
</g>
<g transform="scale(-1,1)">
<path class="k1" d="M-10.2,345.4 L-29.5,336.4 L-35.4,341.1 L-21.9,361.4 L-18.6,363.4" />
<path class="k2" d="M-29.5,336.4 L-35.4,341.1" />
<path class="k1" d="M-27.6,337.9 L-33.4,342.5 M-12,347.6 L-20.4,343.6 M-31.6,346.6 L-21,362" />
<ellipse class="k15" cx="-24.8" cy="345.4" rx="2.5" ry="4" transform="rotate(-12 -24.8 345.4)"/>
<path class="k1" d="M-22.4,349 L-17.4,357.6 M-22.6,341.8 L-14.6,347.4" />
</g>
<path class="k2" d="M-11,345.6 L-17.6,352.6 L-19.4,358 L-19.6,377 L-17.6,380.4 L-17,385 L-10,385 L-9.4,383.6 L9.4,383.6 L10,385 L17,385 L17.6,380.4 L19.6,377 L19.4,358 L17.6,352.6 L11,345.6 Z" />
<path class="k1" d="M-13,349.6 Q-16.4,356 -16.4,364 L-16,378 L-13.4,382.6 M13,349.6 Q16.4,356 16.4,364 L16,378 L13.4,382.6" />
<path class="k15" d="M-8.5,347.6 L-8.5,374 Q-8.5,379.2 -3.5,379.2 L3.5,379.2 Q8.5,379.2 8.5,374 L8.5,347.6" />
<path class="k1" d="M-5.4,351 L-5.4,373.6 Q-5.4,376.6 -2.4,376.6 L2.4,376.6 Q5.4,376.6 5.4,373.6 L5.4,351 Z" />
<line class="k2" x1="-11.0" y1="345.8" x2="11.0" y2="345.8"/>
<line class="k1" x1="-14.0" y1="351.4" x2="14.0" y2="351.4"/>
<line class="k15" x1="-8.5" y1="355.0" x2="8.5" y2="355.0"/>
<line class="k1" x1="-16.4" y1="364.0" x2="16.4" y2="364.0"/>
<line class="k1" x1="-8.5" y1="372.0" x2="8.5" y2="372.0"/>
<line class="k1" x1="-8.5" y1="359.6" x2="8.5" y2="359.6"/>
<line class="k1" x1="-8.5" y1="368.0" x2="8.5" y2="368.0"/>
<rect class="f" x="-18.6" y="356.0" width="2.6" height="3.6" />
<rect class="f" x="16.0" y="356.0" width="2.6" height="3.6" />
<rect class="f" x="-18.6" y="364.6" width="2.6" height="3.6" />
<rect class="f" x="16.0" y="364.6" width="2.6" height="3.6" />
<rect class="f" x="-18.6" y="373.4" width="2.6" height="3.6" />
<rect class="f" x="16.0" y="373.4" width="2.6" height="3.6" />
<rect class="f" x="-14.6" y="366.0" width="3.0" height="4.6" />
<rect class="f" x="11.6" y="349.6" width="2.6" height="3.4" />
<rect class="f" x="-14.2" y="349.6" width="2.6" height="3.4" />
<rect class="f" x="12.0" y="374.0" width="2.6" height="3.6" />
<path class="k15" d="M-16.6,381 L-10,381 M10,381 L16.6,381" />
<line class="l" x1="0.0" y1="341.0" x2="0.0" y2="405.6"/>
</g>
<g transform="translate(0.5,0)">
<line class="l" x1="707.0" y1="381.0" x2="707.0" y2="389.0"/>
<path class="f" d="M707,377.2 L705.9,381.6 L708.1,381.6 Z" />
<circle class="m" cx="703.4" cy="394.6" r="5.4"/>
<circle class="m" cx="703.4" cy="394.6" r="3.0"/>
<rect class="l" x="705.0" y="388.4" width="4.0" height="3.0" />
<line class="l" x1="703.4" y1="400.0" x2="703.4" y2="406.8"/>
<path class="m" d="M700.4,408.6 L701.4,406.8 L705.4,406.8 L706.4,408.6" />
<rect class="m" x="697.8" y="408.8" width="14.6" height="9.0" />
<path class="m" d="M697.8,417.8 Q698.2,420.6 699.4,421.6 L702.6,443.6 L704.2,443.6 L707.4,421.6 Q708.6,420.6 709,417.8" />
<line class="l" x1="699.4" y1="421.6" x2="707.4" y2="421.6"/>
<circle class="m" cx="703.4" cy="445.6" r="1.8"/>
<line class="l" x1="703.4" y1="447.4" x2="703.4" y2="454.0"/>
<path class="f" d="M703.4,457.6 L702.3,453.2 L704.5,453.2 Z" />
<rect class="f2" x="711.4" y="409.8" width="1.6" height="4.8" />
</g>
<line class="l" x1="713.0" y1="412.6" x2="742.6" y2="412.6"/>
<path class="m" d="M742.4,436.4 L742.4,416 L745,410.4 L760,408 L768,412 L774.6,418 L774.6,436.4" />
<rect class="f2" x="747.4" y="405.8" width="12.2" height="4.4" />
<rect class="l" x="759.6" y="406.6" width="3.4" height="3.2" />
<path class="m" d="M745,410.4 L751.6,412 L757.6,412 M757.6,406 L757.6,420 Q755,424 751.6,424.6 L745,426 L742.4,430" />
<line class="l" x1="751.4" y1="424.6" x2="751.4" y2="436.4"/>
<line class="l" x1="762.4" y1="418.0" x2="762.4" y2="436.4"/>
<line class="l" x1="765.6" y1="418.0" x2="765.6" y2="436.4"/>
<line class="l" x1="757.6" y1="420.0" x2="774.6" y2="420.0"/>
<path class="m" d="M757.6,412 Q761,414 762.4,418" />
<rect class="l" x="774.6" y="421.6" width="3.6" height="13.4" />
<line class="l" x1="776.4" y1="417.6" x2="776.4" y2="421.6"/>
<rect class="k15" x="737.9" y="436.6" width="40.8" height="3.2" />
<line class="m" x1="738.2" y1="440.0" x2="738.2" y2="482.0"/>
<line class="l" x1="740.4" y1="440.0" x2="740.4" y2="482.0"/>
<line class="l" x1="776.2" y1="440.0" x2="776.2" y2="482.0"/>
<line class="m" x1="778.4" y1="440.0" x2="778.4" y2="482.0"/>
<path class="m" d="M741,448.4 L757.5,464 L775.4,448.4" />
<line class="m" x1="740.4" y1="464.2" x2="776.2" y2="464.2"/>
<line class="l" x1="740.4" y1="465.6" x2="776.2" y2="465.6"/>
<line class="k2" x1="743.0" y1="441.6" x2="756.0" y2="441.6"/>
<line class="k2" x1="762.0" y1="441.6" x2="766.0" y2="441.6"/>
<path class="k15" d="M746.8,481.4 L748.2,476 L754,471.8 L764.6,470.4 L767.4,472.4 L769,481.4 Z" />
<path class="m" d="M754.4,471.6 L756.2,467.2 L760,467.2 L761.8,470.6" />
<circle class="f2" cx="758.1" cy="468.0" r="1.2"/>
<line class="k2" x1="746.4" y1="481.6" x2="769.4" y2="481.6"/>
</svg>
</body></html>
